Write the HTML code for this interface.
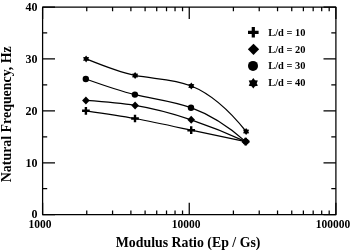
<!DOCTYPE html>
<html><head><meta charset="utf-8"><title>chart</title>
<style>html,body{margin:0;padding:0;background:#fff;overflow:hidden}svg{display:block}</style>
</head><body>
<svg width="350" height="250" viewBox="0 0 350 250">
<rect width="350" height="250" fill="#fff"/>
<g stroke="#000" stroke-width="1.25" fill="none" stroke-linejoin="round">
<rect x="42.60" y="7.00" width="293.30" height="207.70"/>
<path d="M42.60 214.70h12.40M335.90 214.70h-12.40M42.60 188.74h4.60M335.90 188.74h-4.60M42.60 162.77h12.40M335.90 162.77h-12.40M42.60 136.81h4.60M335.90 136.81h-4.60M42.60 110.85h12.40M335.90 110.85h-12.40M42.60 84.89h4.60M335.90 84.89h-4.60M42.60 58.92h12.40M335.90 58.92h-12.40M42.60 32.96h4.60M335.90 32.96h-4.60M42.60 7.00h12.40M335.90 7.00h-12.40M42.60 214.70v-12.00M42.60 7.00v12.00M86.75 214.70v-4.20M86.75 7.00v4.20M112.57 214.70v-4.20M112.57 7.00v4.20M130.89 214.70v-4.20M130.89 7.00v4.20M145.10 214.70v-4.20M145.10 7.00v4.20M156.72 214.70v-4.20M156.72 7.00v4.20M166.53 214.70v-4.20M166.53 7.00v4.20M175.04 214.70v-4.20M175.04 7.00v4.20M182.54 214.70v-4.20M182.54 7.00v4.20M189.25 214.70v-12.00M189.25 7.00v12.00M233.40 214.70v-4.20M233.40 7.00v4.20M259.22 214.70v-4.20M259.22 7.00v4.20M277.54 214.70v-4.20M277.54 7.00v4.20M291.75 214.70v-4.20M291.75 7.00v4.20M303.37 214.70v-4.20M303.37 7.00v4.20M313.18 214.70v-4.20M313.18 7.00v4.20M321.69 214.70v-4.20M321.69 7.00v4.20M329.19 214.70v-4.20M329.19 7.00v4.20M335.90 214.70v-12.00M335.90 7.00v12.00"/>
<path d="M85.90 110.80 C102.27 113.16 118.63 115.52 135.00 118.50 C153.73 121.91 172.47 126.13 191.20 130.20 C209.37 134.14 227.53 137.94 245.70 141.60"/>
<path d="M85.90 100.40 C102.30 101.56 118.70 102.71 135.10 105.40 C153.80 108.46 172.50 113.52 191.20 119.80 C209.37 125.90 227.53 133.17 245.70 141.60"/>
<path d="M85.80 79.00 C102.17 84.86 118.53 90.71 134.90 94.60 C153.60 99.04 172.30 100.91 191.00 107.70 C209.23 114.32 227.47 125.62 245.70 141.60"/>
<path d="M86.10 58.90 C102.43 65.54 118.77 72.19 135.10 75.45 C153.83 79.19 172.57 78.48 191.30 86.00 C209.57 93.34 227.83 108.50 246.10 131.50"/>
</g>
<path d="M82.05 110.80H89.75M85.90 106.95V114.65" stroke="#000" stroke-width="2.40" fill="none"/>
<path d="M131.15 118.50H138.85M135.00 114.65V122.35" stroke="#000" stroke-width="2.40" fill="none"/>
<path d="M187.35 130.20H195.05M191.20 126.35V134.05" stroke="#000" stroke-width="2.40" fill="none"/>
<path d="M241.85 141.60H249.55M245.70 137.75V145.45" stroke="#000" stroke-width="2.40" fill="none"/>
<circle cx="85.80" cy="79.00" r="3.20" fill="#000"/>
<circle cx="134.90" cy="94.60" r="3.20" fill="#000"/>
<circle cx="191.00" cy="107.70" r="3.20" fill="#000"/>
<circle cx="245.70" cy="141.60" r="3.20" fill="#000"/>
<path d="M85.90 96.40L89.70 100.40L85.90 104.40L82.10 100.40Z" fill="#000"/>
<path d="M135.10 101.40L138.90 105.40L135.10 109.40L131.30 105.40Z" fill="#000"/>
<path d="M191.20 115.80L195.00 119.80L191.20 123.80L187.40 119.80Z" fill="#000"/>
<path d="M245.70 137.60L249.50 141.60L245.70 145.60L241.90 141.60Z" fill="#000"/>
<path d="M86.10 55.40L87.22 56.96L89.13 57.15L88.34 58.90L89.13 60.65L87.22 60.84L86.10 62.40L84.98 60.84L83.07 60.65L83.86 58.90L83.07 57.15L84.98 56.96Z" fill="#000"/>
<path d="M135.10 71.95L136.22 73.51L138.13 73.70L137.34 75.45L138.13 77.20L136.22 77.39L135.10 78.95L133.98 77.39L132.07 77.20L132.86 75.45L132.07 73.70L133.98 73.51Z" fill="#000"/>
<path d="M191.30 82.50L192.42 84.06L194.33 84.25L193.54 86.00L194.33 87.75L192.42 87.94L191.30 89.50L190.18 87.94L188.27 87.75L189.06 86.00L188.27 84.25L190.18 84.06Z" fill="#000"/>
<path d="M246.10 128.00L247.22 129.56L249.13 129.75L248.34 131.50L249.13 133.25L247.22 133.44L246.10 135.00L244.98 133.44L243.07 133.25L243.86 131.50L243.07 129.75L244.98 129.56Z" fill="#000"/>
<path d="M248.00 32.30H258.60M253.30 27.00V37.60" stroke="#000" stroke-width="3.20" fill="none"/>
<path d="M253.50 43.70L259.15 49.30L253.50 54.90L247.85 49.30Z" fill="#000"/>
<circle cx="253.00" cy="65.90" r="5.00" fill="#000"/>
<path d="M253.30 77.90L255.00 80.26L257.89 80.55L256.69 83.20L257.89 85.85L255.00 86.14L253.30 88.50L251.60 86.14L248.71 85.85L249.91 83.20L248.71 80.55L251.60 80.26Z" fill="#000"/>
<g font-family="'Liberation Serif', 'Times New Roman', serif" font-weight="bold" fill="#000">
<text x="268.3" y="36.00" font-size="10.4">L/d = 10</text>
<text x="268.3" y="52.50" font-size="10.4">L/d = 20</text>
<text x="268.3" y="69.00" font-size="10.4">L/d = 30</text>
<text x="268.3" y="85.50" font-size="10.4">L/d = 40</text>
<text x="37.4" y="218.30" font-size="12" text-anchor="end">0</text>
<text x="37.4" y="166.77" font-size="12" text-anchor="end">10</text>
<text x="37.4" y="114.85" font-size="12" text-anchor="end">20</text>
<text x="37.4" y="62.92" font-size="12" text-anchor="end">30</text>
<text x="37.4" y="11.00" font-size="12" text-anchor="end">40</text>
<text x="40.00" y="228.2" font-size="11.5" text-anchor="middle">1000</text>
<text x="186.00" y="228.2" font-size="11.5" text-anchor="middle">10000</text>
<text x="333.00" y="228.2" font-size="11.5" text-anchor="middle">100000</text>
<text x="188.1" y="246.5" font-size="13.85" text-anchor="middle">Modulus Ratio (Ep / Gs)</text>
<text transform="translate(10.9 114.2) rotate(-90)" font-size="13.9" text-anchor="middle">Natural Frequency, Hz</text>
</g></svg>
</body></html>
